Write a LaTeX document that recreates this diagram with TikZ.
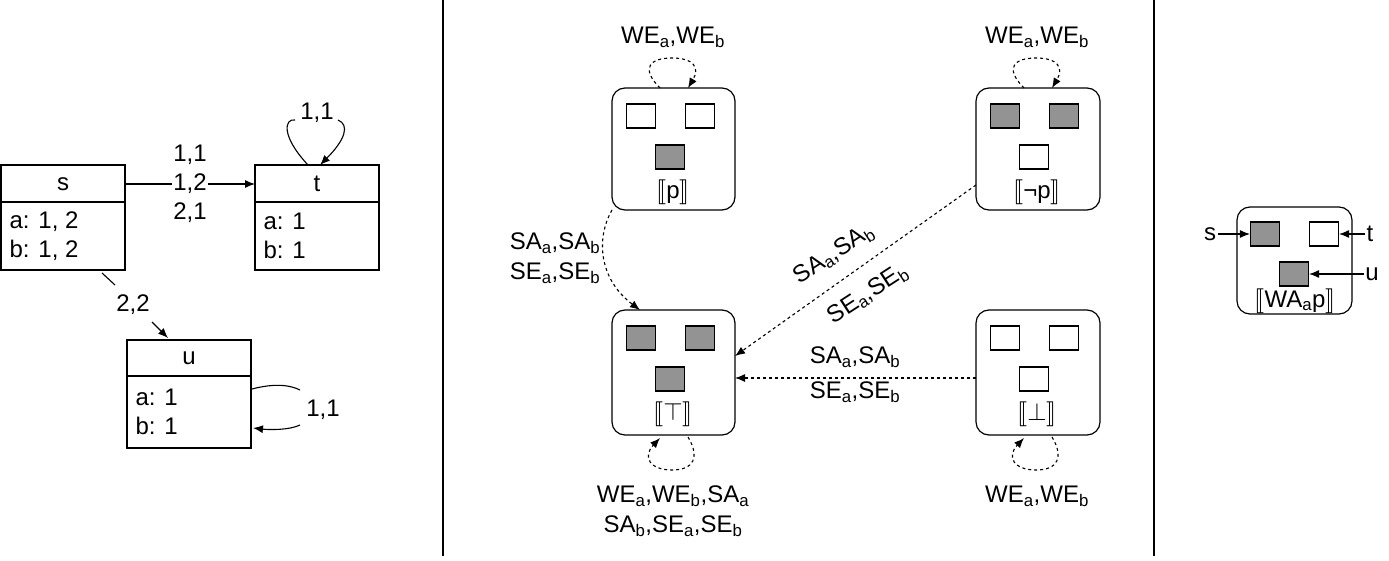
\documentclass[tikz,border=0pt]{standalone}
\usepackage{stmaryrd}
\usepackage{fontspec}
\setmainfont{Liberation Sans}
\usetikzlibrary{arrows.meta}
\begin{document}
\begin{tikzpicture}[x=1pt,y=-1pt,font=\fontsize{24}{29}\selectfont,
  lbl/.style={inner sep=1pt},
  arr/.style={-{Latex[length=10pt,width=8pt]},line width=1.1pt},
  darr/.style={arr,dashed},
  world/.style={draw,rounded corners=13pt,line width=1.2pt},
  sq/.style={draw,line width=1.1pt,minimum width=29pt,minimum height=24pt,inner sep=0pt},
  g/.style={sq,fill=gray!85}]
\useasboundingbox (0,0) rectangle (1389,561);
\tikzset{every path/.append style={line width=1.1pt}}
% left panel
\draw (1,165) rectangle (125,270); \draw (1,202)--(125,202);
\draw (255,165) rectangle (379,270); \draw (255,202)--(379,202);
\draw (127,340) rectangle (251,448); \draw (127,376)--(251,376);
\node[lbl] (s) at (63,184) {s};
\node[lbl] (t) at (317,184) {t};
\node[lbl] (u) at (189,358) {u};
\node[lbl,align=left,anchor=west] (sv) at (8,236) {a: 1, 2\\b: 1, 2};
\node[lbl,align=left,anchor=west] (tv) at (262,236) {a: 1\\b: 1};
\node[lbl,align=left,anchor=west] (uv) at (134,412) {a: 1\\b: 1};
\coordinate (se) at (125,184); \coordinate (tw) at (255,184);
\node[lbl,fill=white] (st) at (190,184) {1,2};
\node[lbl] at (190,155) {1,1};
\node[lbl] at (190,213) {2,1};
\draw (se)--(st); \draw[arr] (st)--(tw);
\coordinate (t1) at (308,165); \coordinate (t2) at (320,165);
\draw (t1) .. controls (280,135) and (285,118) .. (295,120);
\draw[arr] (338,120) .. controls (350,125) and (345,140) .. (t2);
\node[lbl] at (317,113) {1,1};
\coordinate (su1) at (102,273); \coordinate (su2) at (168,338);
\node[lbl] (l22) at (133,305) {2,2};
\draw (su1)--(115,285); \draw[arr] (152,322)--(su2);
\coordinate (u1) at (252,389); \coordinate (u2) at (253,428);
\draw (u1) .. controls (275,383) and (290,385) .. (300,390);
\draw[arr] (300,425) .. controls (290,430) and (270,430) .. (u2);
\node[lbl] at (323,410) {1,1};
% dividers
\draw (443,0)--(443,556); \draw (1154,0)--(1154,556);
% worlds
\draw[world] (612,88) rectangle (735,210);
\draw[world] (976,88) rectangle (1100,210);
\draw[world] (612,310) rectangle (735,435);
\draw[world] (976,310) rectangle (1100,435);
\node[sq] at (641,116) {}; \node[sq] at (700,116) {}; \node[g] at (670,157) {};
\node[lbl] (p) at (673,192) {$\llbracket$p$\rrbracket$};
\node[g] at (1005,116) {}; \node[g] at (1064,116) {}; \node[sq] at (1034,157) {};
\node[lbl] (np) at (1037,192) {$\llbracket$¬p$\rrbracket$};
\node[g] at (641,338) {}; \node[g] at (700,338) {}; \node[g] at (670,379) {};
\node[lbl] (T) at (673,414) {$\llbracket\top\rrbracket$};
\node[sq] at (1005,338) {}; \node[sq] at (1064,338) {}; \node[sq] at (1034,379) {};
\node[lbl] (B) at (1037,414) {$\llbracket\bot\rrbracket$};
% loops
\draw[darr] (660,88) .. controls (640,68) and (650,58) .. (672,58) .. controls (694,58) and (700,68) .. (688,88);
\node[lbl] at (673,37) {WE\textsubscript{a},WE\textsubscript{b}};
\draw[darr] (1024,88) .. controls (1004,68) and (1014,58) .. (1036,58) .. controls (1058,58) and (1064,68) .. (1052,88);
\node[lbl] at (1037,37) {WE\textsubscript{a},WE\textsubscript{b}};
\draw[darr] (688,437) .. controls (700,457) and (694,470) .. (672,470) .. controls (650,470) and (642,457) .. (660,438);
\node[lbl] at (673,496) {WE\textsubscript{a},WE\textsubscript{b},SA\textsubscript{a}};
\node[lbl] at (673,526) {SA\textsubscript{b},SE\textsubscript{a},SE\textsubscript{b}};
\draw[darr] (1052,437) .. controls (1064,457) and (1058,470) .. (1036,470) .. controls (1014,470) and (1006,457) .. (1024,438);
\node[lbl] at (1037,496) {WE\textsubscript{a},WE\textsubscript{b}};
% edges
\draw[darr] (612,210) .. controls (595,240) and (600,280) .. (640,310);
\node[lbl] at (555,243) {SA\textsubscript{a},SA\textsubscript{b}};
\node[lbl] at (555,273) {SE\textsubscript{a},SE\textsubscript{b}};
\draw[darr] (976,185) -- (735,356);
\node[lbl,rotate=33] at (834,254) {SA\textsubscript{a},SA\textsubscript{b}};
\node[lbl,rotate=33] at (868,294) {SE\textsubscript{a},SE\textsubscript{b}};
\draw[darr] (976,378) -- (735,378);
\node[lbl] at (855,357) {SA\textsubscript{a},SA\textsubscript{b}};
\node[lbl] at (855,392) {SE\textsubscript{a},SE\textsubscript{b}};
% right panel
\draw[world] (1237,207) rectangle (1352,314);
\node[g] (rs) at (1265,234) {}; \node[sq] (rt) at (1324,234) {}; \node[g] (ru) at (1294,274) {};
\node[lbl] at (1295,301) {$\llbracket$WA\textsubscript{a}p$\rrbracket$};
\node[lbl] (ls) at (1210,234) {s};
\node[lbl] (lt) at (1370,234) {t};
\node[lbl] (lu) at (1372,274) {u};
\draw[arr] (ls)--(rs.west); \draw[arr] (lt)--(rt.east); \draw[arr] (lu)--(ru.east);
\end{tikzpicture}
\end{document}
